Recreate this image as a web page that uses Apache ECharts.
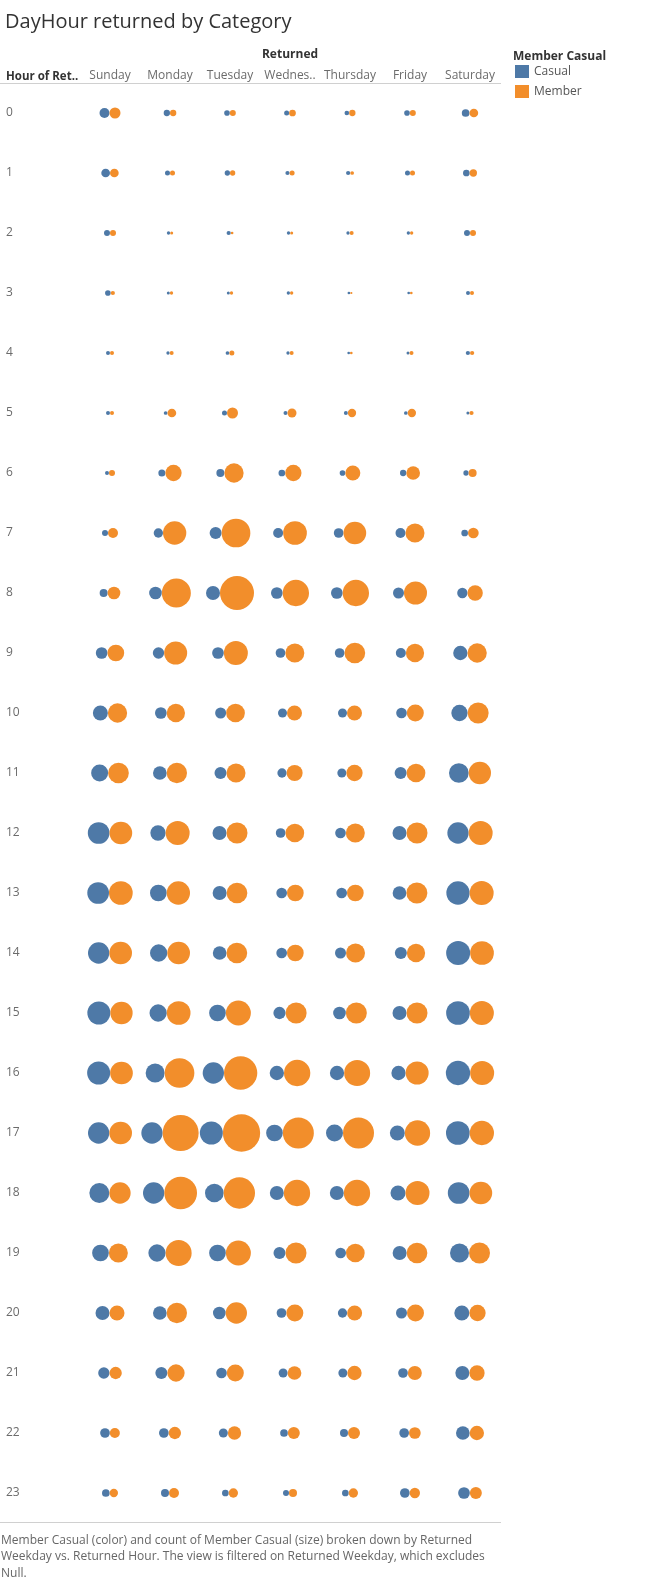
<!DOCTYPE html>
<html>
<head>
<meta charset="utf-8">
<title>DayHour returned by Category</title>
<script src="https://cdn.jsdelivr.net/npm/echarts@6/dist/echarts.min.js"></script>
<style>
  html, body { margin: 0; padding: 0; background: #fff; }
  #chart { width: 652px; height: 1583px; }
</style>
</head>
<body>
<div id="chart"></div>
<script>
// weekdays (columns) and hours (rows)
const days = ['Sunday', 'Monday', 'Tuesday', 'Wednesday', 'Thursday', 'Friday', 'Saturday']
const dayLabels = ['Sunday', 'Monday', 'Tuesday', 'Wednes..', 'Thursday', 'Friday', 'Saturday']
const hours = ['0', '1', '2', '3', '4', '5', '6', '7', '8', '9', '10', '11',
  '12', '13', '14', '15', '16', '17', '18', '19', '20', '21', '22', '23']

// estimated ride counts, one row per hour, Sun..Sat (read off circle sizes)
const casual = [
  [1000, 400, 320, 250, 220, 320, 590],
  [760, 250, 280, 180, 180, 250, 450],
  [360, 110, 180, 110, 110, 110, 360],
  [320, 90, 90, 110, 70, 70, 160],
  [160, 110, 140, 110, 70, 90, 180],
  [160, 140, 250, 160, 160, 140, 90],
  [160, 490, 640, 450, 320, 400, 280],
  [360, 860, 1440, 1000, 940, 1000, 450],
  [640, 1610, 1960, 1370, 1370, 1210, 1060],
  [1370, 1280, 1370, 940, 940, 1000, 2040],
  [2250, 1370, 1210, 810, 810, 1140, 2660],
  [2890, 1880, 1440, 860, 810, 1440, 3880],
  [4710, 2340, 1960, 940, 1140, 1960, 4540],
  [4710, 2790, 1960, 1140, 1140, 1880, 5430],
  [4540, 2990, 1880, 1140, 1210, 1440, 5760],
  [5290, 2990, 2790, 1510, 1610, 1960, 5620],
  [5290, 3610, 4540, 2040, 2040, 2040, 5900],
  [4540, 4540, 5290, 2790, 2890, 2250, 5620],
  [4000, 4540, 3500, 1960, 1960, 2250, 4710],
  [2790, 2990, 2790, 1440, 1140, 1960, 3610],
  [1960, 1880, 1610, 940, 860, 1210, 2250],
  [1280, 1440, 1140, 810, 810, 940, 1960],
  [940, 940, 810, 590, 640, 940, 1880],
  [590, 640, 450, 360, 450, 940, 1370]
]
const member = [
  [1210, 400, 360, 450, 400, 360, 760],
  [760, 250, 280, 250, 140, 250, 530],
  [360, 90, 70, 90, 160, 110, 360],
  [180, 110, 110, 110, 50, 70, 160],
  [160, 160, 250, 160, 70, 160, 180],
  [160, 760, 1210, 810, 690, 690, 180],
  [360, 2660, 3720, 2660, 2250, 1880, 640],
  [1000, 5430, 8240, 5620, 5150, 3610, 1140],
  [1610, 8410, 11560, 6920, 6920, 5290, 2340],
  [2790, 5290, 5760, 3610, 4280, 3350, 3720],
  [3720, 3350, 3500, 2250, 2250, 2890, 4410],
  [4280, 4120, 3610, 2560, 2660, 3500, 4970],
  [5150, 5760, 4410, 3500, 3610, 4410, 5760],
  [5620, 5430, 4280, 2790, 2790, 4410, 5760],
  [5150, 5150, 4280, 2790, 3610, 3350, 5620],
  [4970, 5620, 6250, 4410, 4410, 4410, 5760],
  [5150, 8820, 11090, 6920, 6760, 5290, 5760],
  [5150, 12960, 13910, 9610, 9610, 6400, 5900],
  [4540, 10690, 9800, 6920, 6920, 5760, 5150],
  [3610, 6760, 6250, 4410, 3500, 4280, 4410],
  [2250, 4120, 4540, 2890, 2250, 2890, 2660],
  [1510, 2990, 2890, 1880, 2040, 1960, 2340],
  [1000, 1510, 1770, 1440, 1440, 1370, 2040],
  [690, 1000, 860, 640, 860, 1060, 1440]
]

const BLUE = '#4e79a7'
const ORANGE = '#f28e2b'
const FONT = "'Open Sans', sans-serif"

// circle area follows the count
const maxCount = Math.max(...casual.flat(), ...member.flat())
const sizeOf = (v) => 37.3 * Math.sqrt(v / maxCount)

// the two circles of a cell sit side by side, touching, centred on the cell
function pairData(values, other, sign) {
  const out = []
  values.forEach((row, h) => {
    row.forEach((v, d) => {
      const off = sign < 0 ? -sizeOf(other[h][d]) / 2 : sizeOf(other[h][d]) / 2
      out.push({ value: [days[d], hours[h]], symbolSize: sizeOf(v), symbolOffset: [off, 0] })
    })
  })
  return out
}

const chart = echarts.init(document.getElementById('chart'))

chart.setOption({
  animation: false,
  textStyle: { fontFamily: FONT },
  grid: { left: 80, right: 152, top: 83, bottom: 60 },
  xAxis: {
    type: 'category',
    position: 'top',
    data: days,
    axisLine: { show: false },
    axisTick: { show: false },
    splitLine: { show: false },
    axisLabel: {
      interval: 0,
      margin: 1,
      fontSize: 12,
      color: '#6b6b6b',
      fontFamily: FONT,
      formatter: (v, i) => dayLabels[i]
    }
  },
  yAxis: {
    type: 'category',
    inverse: true,
    data: hours,
    axisLine: { show: false },
    axisTick: { show: false },
    splitLine: { show: false },
    axisLabel: {
      interval: 0,
      align: 'left',
      margin: 74,
      padding: [4, 0, 0, 0],
      fontSize: 12,
      color: '#6b6b6b',
      fontFamily: FONT
    }
  },
  legend: {
    data: ['Casual', 'Member'],
    orient: 'vertical',
    left: 515,
    top: 65,
    padding: 0,
    itemWidth: 14,
    itemHeight: 13,
    itemGap: 7,
    icon: 'rect',
    textStyle: { fontSize: 12, color: '#555', fontFamily: FONT }
  },
  graphic: [
    { type: 'text', style: { text: 'DayHour returned by Category', x: 5, y: 22.5, font: '20px ' + FONT, fill: '#333', verticalAlign: 'middle', textVerticalAlign: 'middle' } },
    { type: 'text', style: { text: 'Returned', x: 290, y: 55, font: 'bold 12px ' + FONT, fill: '#333', align: 'center', textAlign: 'center', verticalAlign: 'middle', textVerticalAlign: 'middle' } },
    { type: 'text', style: { text: 'Hour of Ret..', x: 6, y: 76.5, font: 'bold 11.5px ' + FONT, fill: '#333', verticalAlign: 'middle', textVerticalAlign: 'middle' } },
    { type: 'text', style: { text: 'Member Casual', x: 513, y: 56.5, font: 'bold 12px ' + FONT, fill: '#333', verticalAlign: 'middle', textVerticalAlign: 'middle' } },
    { type: 'line', shape: { x1: 0, y1: 83.5, x2: 501, y2: 83.5 }, style: { stroke: '#d0d0d0', lineWidth: 1 } },
    { type: 'line', shape: { x1: 0, y1: 1522.5, x2: 501, y2: 1522.5 }, style: { stroke: '#d0d0d0', lineWidth: 1 } },
    {
      type: 'text',
      style: {
        text: 'Member Casual (color) and count of Member Casual (size) broken down by Returned\n' +
          'Weekday vs. Returned Hour. The view is filtered on Returned Weekday, which excludes\n' +
          'Null.',
        x: 1,
        y: 1532,
        font: '12px ' + FONT,
        lineHeight: 16.5,
        fill: '#666'
      }
    }
  ],
  series: [
    {
      name: 'Casual',
      type: 'scatter',
      symbol: 'circle',
      itemStyle: { color: BLUE, opacity: 1 },
      data: pairData(casual, member, -1)
    },
    {
      name: 'Member',
      type: 'scatter',
      symbol: 'circle',
      itemStyle: { color: ORANGE, opacity: 1 },
      data: pairData(member, casual, 1)
    }
  ]
})
</script>
</body>
</html>
